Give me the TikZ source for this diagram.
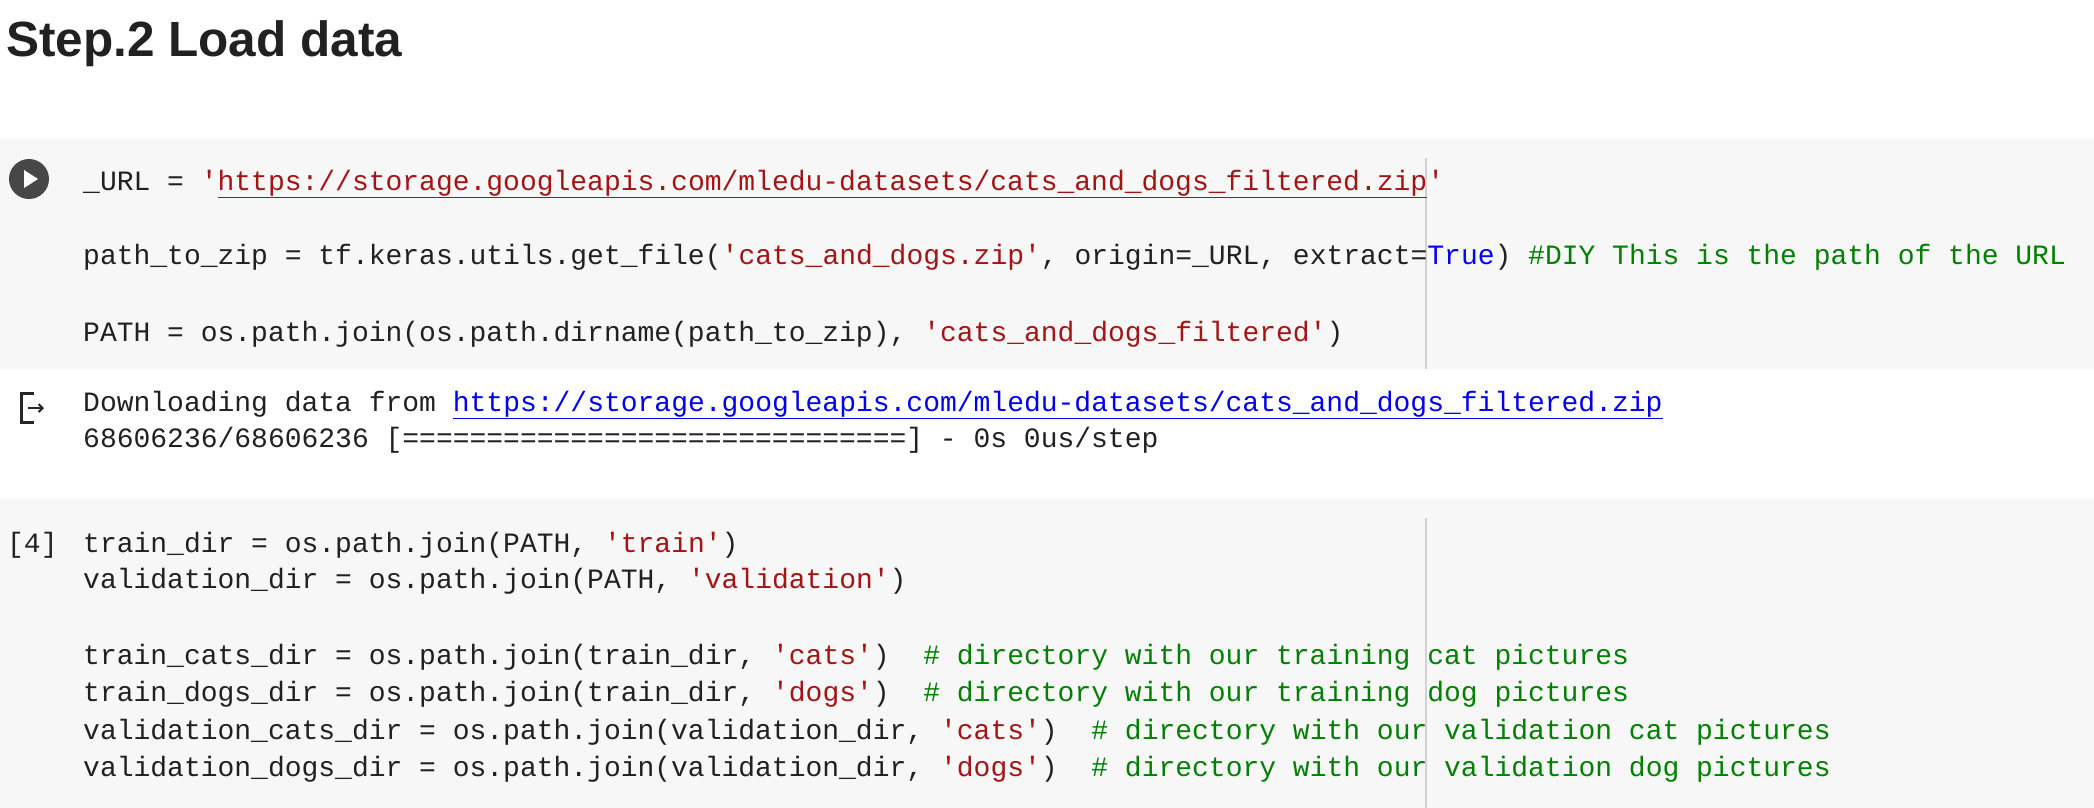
\documentclass[tikz,border=0pt]{standalone}
\usepackage{fontspec}
\setmainfont{Liberation Sans}
\setmonofont{Liberation Mono}
\usetikzlibrary{calc,arrows.meta}
\definecolor{cellbg}{HTML}{F7F7F7}
\definecolor{strc}{HTML}{A31515}
\definecolor{cmtc}{HTML}{008000}
\definecolor{kwc}{HTML}{0000FF}
\definecolor{linkc}{HTML}{0000EE}
\definecolor{txtc}{HTML}{212121}
\newcommand{\Sx}[1]{\textcolor{strc}{#1}}
\newcommand{\Cx}[1]{\textcolor{cmtc}{#1}}
\begin{document}
\begin{tikzpicture}[x=1pt,y=-1pt,
  codeln/.style={anchor=base west,inner sep=0pt,text=txtc,font=\fontsize{28}{32}\selectfont\ttfamily},
  cellbox/.style={fill=cellbg,draw=none},
  cursorln/.style={draw=black!18,line width=1.5pt}]
\useasboundingbox (0,0) rectangle (2094,808);
\fill[white] (0,0) rectangle (2094,808);
\node[anchor=base west,inner sep=0pt,text=txtc,font=\fontsize{49.5}{54}\selectfont\bfseries] (title) at (6,57) {Step.2 Load data};
% cell 1
\fill[cellbox] (0,139) rectangle (2094,369);
\node[circle,fill=black!72,minimum size=40pt,inner sep=0pt] (play) at (29,179) {};
\fill[white] ($(play)+(-5,-9)$) -- ($(play)+(9,0)$) -- ($(play)+(-5,9)$) -- cycle;
\draw[cursorln] (1426,158) coordinate (c1a) -- (1426,369) coordinate (c1b);
\node[codeln] (l1) at (83,190) {\_URL = \Sx{'\underline{https://storage.googleapis.com/mledu-datasets/cats\_and\_dogs\_filtered.zip}'}};
\node[codeln] (l2) at (83,264) {path\_to\_zip = tf.keras.utils.get\_file(\Sx{'cats\_and\_dogs.zip'}, origin=\_URL, extract=\textcolor{kwc}{True}) \Cx{\#DIY This is the path of the URL}};
\node[codeln] (l3) at (83,341) {PATH = os.path.join(os.path.dirname(path\_to\_zip), \Sx{'cats\_and\_dogs\_filtered'})};
% output
\draw[line width=3pt,black!85] (34,393) -- (21,393) -- (21,422) -- (34,422);
\draw[line width=2pt,black!85,-{Straight Barb[length=4pt]}] (28,408) -- (44,408);
\node[codeln] (o1) at (83,411) {Downloading data from \textcolor{linkc}{\underline{https://storage.googleapis.com/mledu-datasets/cats\_and\_dogs\_filtered.zip}}};
\node[codeln] (o2) at (83,447) {68606236/68606236 [==============================] - 0s 0us/step};
% cell 2
\fill[cellbox] (0,499) rectangle (2094,808);
\draw[cursorln] (1426,518) coordinate (c2a) -- (1426,808) coordinate (c2b);
\node[codeln] (num) at (7,552) {[4]};
\node[codeln] (m1) at (83,552) {train\_dir = os.path.join(PATH, \Sx{'train'})};
\node[codeln] (m2) at (83,588) {validation\_dir = os.path.join(PATH, \Sx{'validation'})};
\node[codeln] (m3) at (83,664) {train\_cats\_dir = os.path.join(train\_dir, \Sx{'cats'})~~\Cx{\# directory with our training cat pictures}};
\node[codeln] (m4) at (83,701) {train\_dogs\_dir = os.path.join(train\_dir, \Sx{'dogs'})~~\Cx{\# directory with our training dog pictures}};
\node[codeln] (m5) at (83,739) {validation\_cats\_dir = os.path.join(validation\_dir, \Sx{'cats'})~~\Cx{\# directory with our validation cat pictures}};
\node[codeln] (m6) at (83,776) {validation\_dogs\_dir = os.path.join(validation\_dir, \Sx{'dogs'})~~\Cx{\# directory with our validation dog pictures}};
\end{tikzpicture}
\end{document}
